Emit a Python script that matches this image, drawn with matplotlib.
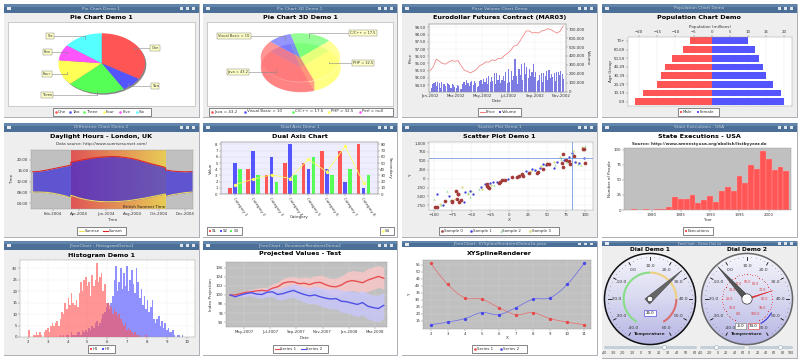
"""JFreeChart demo collage: twelve small chart windows on one 800x360 image."""

import matplotlib
matplotlib.use("Agg")

import matplotlib.patches as mpatches
import matplotlib.pyplot as plt
import numpy as np
from matplotlib.colors import LinearSegmentedColormap

# ── Data ──────────────────────────────────────────────────────────────────────
PIE_LABELS = ["One", "Two", "Three", "Four", "Five", "Six"]
PIE_VALUES = [43.2, 10.0, 27.5, 17.5, 11.0, 19.0]

PIE3D_LABELS = ["Java", "Visual Basic", "C/C++", "PHP"]
PIE3D_VALUES = [43.2, 10.0, 17.5, 32.5]

PRICE = [95.5, 95.75, 96.3, 96.15, 96.0, 95.95, 96.1, 96.2, 96.15, 96.2,
         95.85, 95.55, 95.45, 95.35, 95.45, 95.6, 95.85, 95.95, 96.1, 96.1,
         96.25, 96.2, 96.35, 96.35, 96.55, 96.7, 96.9, 97.2, 97.25, 97.55,
         97.9, 98.25, 98.25, 98.1, 98.15, 98.1, 98.25, 98.3, 98.4, 98.35,
         98.2, 98.1, 98.25, 98.6]
VOLUME_K = [40, 85, 95, 110, 60, 105, 95, 40, 105, 90, 80, 60, 95, 85, 75, 45,
            80, 70, 55, 40, 70, 60, 30, 25, 85, 110, 70, 135, 100, 60, 105, 120,
            70, 115, 100, 50, 60, 120, 135, 90, 145, 105, 150, 80, 170, 105, 160,
            120, 210, 90, 205, 135, 190, 100, 130, 180, 120, 215, 95, 250, 110,
            235, 130, 175, 365, 180, 90, 250, 190, 310, 130, 325, 200, 280, 150,
            255, 170, 225, 310, 160, 220, 120, 130, 190, 210, 110, 205, 170, 235,
            130, 240, 150, 200, 160, 210, 120, 225, 215, 190, 235, 200, 140]
PRICE_TICK_LABELS = ["Jan-2002", "Mar-2002", "May-2002", "Jul-2002", "Sep-2002", "Nov-2002"]

AGE_GROUPS = ["0-9", "10-19", "20-29", "30-39", "40-49", "50-59", "60-69", "70+"]
MALE = [21, 19, 15, 14, 13, 11, 8, 6]
FEMALE = [20, 19, 17, 15, 14, 13, 12, 10]

DAY_MONTHS = [-0.5, 0, 0.5, 1, 1.5, 2, 2.37, 2.38, 3, 3.5, 4, 4.5, 5, 5.5, 6, 6.5,
              7, 7.5, 8, 8.5, 9, 9.49, 9.51, 10, 10.5, 11, 11.5]
SUNRISE = [8.1, 8.1, 8.0, 7.7, 7.2, 6.6, 5.9, 6.9, 5.9, 5.3, 4.9, 4.6, 4.5, 4.5,
           4.6, 4.8, 5.1, 5.5, 5.9, 6.4, 6.9, 7.4, 6.5, 7.1, 7.5, 7.9, 8.1]
SUNSET = [15.6, 15.8, 16.2, 16.7, 17.2, 17.7, 18.1, 19.2, 19.8, 20.3, 20.7, 21.0,
          21.2, 21.3, 21.2, 20.9, 20.5, 19.9, 19.2, 18.5, 17.9, 17.2, 16.3, 15.9,
          15.7, 15.6, 15.7]
DAY_TICK_LABELS = ["Feb-2004", "Apr-2004", "Jun-2004", "Aug-2004", "Oct-2004", "Dec-2004"]

CATEGORIES = [f"Category {i}" for i in range(1, 9)]
S1 = [1, 4, 3, 5, 5, 7, 7, 8]
S2 = [5, 7, 6, 8, 4, 4, 2, 1]
S3 = [4, 3, 2, 3, 6, 3, 4, 3]
S4 = [15, 24, 31, 25, 56, 36, 77, 18]

SAMPLE0_X = [-98, -96, -85, -76, -75, -70, -68, -69, -66, -64, -68, -30, -29, -27,
             -28, -14, -12, -10, -6, 4, 10, 12, 17, 18, 26, 36, 37, 44, 50, 52, 69,
             70, 70, 75, 78, 80, 85, 98, 99, 97]
SAMPLE0_Y = [-800, -790, -630, -620, -660, -350, -420, -580, -650, -590, -440, -140,
             -200, -270, -230, -110, -80, -50, -30, 40, 50, 70, 120, 80, 170, 170,
             200, 280, 400, 420, 440, 680, 320, 530, 500, 400, 640, 830, 430, 820]
SAMPLE1_X = [-95, -88, -80, -60, -58, -52, -48, -38, -32, -26, -22, -16, -8, -2, 22,
             30, 34, 40, 44, 48, 58, 62, 72, 78, 82, 86, 92, 98]
SAMPLE1_Y = [-440, -750, -490, -650, -370, -340, -420, -240, -150, -120, -100, -90,
             -30, -20, 210, 260, 230, 310, 420, 380, 310, 460, 520, 600, 720, 480,
             440, 580]
SAMPLE2_X = [-100, -90, -82, -78, -66, -54, -52, -40, -26, -20, 8, 24, 33, 46, 52,
             60, 68, 76, 84, 90, 94, 99]
SAMPLE2_Y = [-560, -740, -340, -600, -440, -400, -510, -300, -230, -170, 60, 180,
             240, 420, 400, 390, 540, 470, 700, 410, 380, 930]
SAMPLE3_X = [-92, -72, -62, -54, -50, -36, -24, -12, 14, 28, 42, 50, 58, 66, 74, 84,
             88, 96]
SAMPLE3_Y = [-700, -560, -240, -420, -360, -280, -190, -60, 100, 210, 360, 440, 470,
             600, 530, 780, 460, 880]

EXEC_YEARS = list(range(1976, 2004))
EXECUTIONS = [0, 1, 0, 2, 0, 1, 2, 5, 21, 18, 18, 25, 11, 16, 23, 14, 31, 38, 31, 56,
              45, 74, 68, 98, 85, 66, 71, 65]

H1_START = 2.0
H1 = [3, 0, 0, 1, 1, 2, 1, 2, 1, 0, 2, 3, 4, 2, 5, 6, 5, 6, 7, 5, 8, 11, 10, 15, 12,
      17, 14, 19, 15, 14, 16, 13, 19, 24, 20, 25, 26, 22, 24, 18, 27, 22, 25, 32, 24,
      26, 28, 20, 23, 15, 15, 14, 13, 10, 12, 11, 9, 10, 8, 6, 5, 6, 3, 4, 3, 2, 1, 2,
      1, 1, 0, 1, 0, 0, 1]
H2_START = 3.6
H2 = [1, 0, 1, 0, 1, 1, 0, 2, 1, 1, 1, 2, 2, 1, 3, 2, 3, 2, 4, 3, 5, 4, 6, 7, 5, 6, 8,
      10, 11, 13, 15, 12, 15, 18, 25, 31, 20, 24, 30, 21, 28, 22, 31, 20, 25, 29, 23,
      19, 30, 24, 17, 21, 14, 18, 12, 16, 11, 13, 16, 8, 6, 8, 9, 5, 7, 4, 6, 3, 4, 2,
      2, 3, 1, 0, 1, 1, 0, 1]
BIN_WIDTH = 0.08

PROJ_S1 = [100, 100, 100.3, 100.6, 100.7, 100.9, 101, 100.9, 101.5, 101.8, 102.6,
           102.9, 102.9, 102.5, 102.6, 102.3, 102.7, 102.8, 102.3, 101.9, 101.8, 102.2,
           102.9, 103.2, 103, 102.7, 103.3, 103.7, 104.1, 103.7]
PROJ_S1_UP = [100, 100.2, 100.6, 101, 101.2, 101.5, 101.7, 101.7, 102.4, 102.8, 103.7,
              104, 104.1, 103.8, 104, 103.8, 104.2, 104.4, 104, 103.7, 103.7, 104.2,
              105, 105.4, 105.3, 105.1, 105.8, 106.2, 106.5, 106.1]
PROJ_S1_LO = [100, 99.8, 100, 100.2, 100.2, 100.3, 100.3, 100.1, 100.6, 100.8, 101.5,
              101.8, 101.7, 101.2, 101.2, 100.8, 101.2, 101.2, 100.6, 100.1, 99.9,
              100.2, 100.8, 101, 100.7, 100.3, 100.8, 101.2, 101.7, 101.3]
PROJ_S2 = [100, 99.6, 100, 100.3, 100.5, 100.2, 100.1, 100.6, 100.7, 100.1, 100.3,
           100.7, 101, 100.5, 100.1, 99.8, 100, 99.6, 99.3, 99.1, 99.2, 98.6, 98.5,
           98.2, 97.9, 98.3, 97.5, 97.2, 97, 97.7]
PROJ_S2_UP = [100, 99.8, 100.4, 100.9, 101.2, 101, 101, 101.6, 101.8, 101.3, 101.7,
              102.1, 102.5, 102.1, 101.8, 101.6, 101.9, 101.6, 101.4, 101.3, 101.5,
              101, 101, 100.8, 100.6, 101, 100.3, 100, 99.9, 100.6]
PROJ_S2_LO = [100, 99.4, 99.6, 99.7, 99.8, 99.4, 99.2, 99.6, 99.6, 98.9, 98.9, 99.3,
              99.5, 98.9, 98.4, 98, 98.1, 97.6, 97.2, 96.9, 96.9, 96.2, 96, 95.6, 95.2,
              95.6, 94.7, 94.3, 94.1, 94.8]
PROJ_TICK_LABELS = ["May-2007", "Jul-2007", "Sep-2007", "Nov-2007", "Jan-2008", "Mar-2008"]

SPLINE_X = [2, 3, 4, 5, 6, 7, 8, 9, 10, 11]
SPLINE_S1 = [56, 41, 31.5, 30.5, 24.5, 19.5, 21, 16.7, 14.2, 12.3]
SPLINE_S2 = [12.3, 14.2, 16.7, 21, 19.5, 24.5, 30.5, 31.5, 41, 56]

DIAL1_VALUE = 26.0
DIAL2_OUTER_VALUE = -4.0
DIAL2_INNER_VALUE = 74.0
DIAL_OUTER_TICKS = list(range(-40, 61, 10))
DIAL_INNER_TICKS = list(range(0, 101, 10))

# ── Config ────────────────────────────────────────────────────────────────────
W, H = 800, 360
RED, BLUE, GREEN, YELLOW, MAGENTA, CYAN = (
    "#FF5555", "#5555FF", "#55FF55", "#FFFF55", "#FF55FF", "#55FFFF"
)
GRAY_PLOT = "#C0C0C0"
TICK_SIZE = 2.8
TITLE_SIZE = 4.6
TEXT_COLOR = "#333333"

plt.rcParams["font.family"] = ["DejaVu Sans"]
plt.rcParams["axes.linewidth"] = 0.3

fig = plt.figure(figsize=(W / 100, H / 100), dpi=100, facecolor="white")


def px_axes(x0, y0, x1, y1, zorder=2):
    return fig.add_axes([x0 / W, 1 - y1 / H, (x1 - x0) / W, (y1 - y0) / H], zorder=zorder)


bg = px_axes(0, 0, W, H, zorder=-1)
fg = px_axes(0, 0, W, H, zorder=10)
for layer in (bg, fg):
    layer.set_xlim(0, W)
    layer.set_ylim(H, 0)
    layer.axis("off")
fg.patch.set_alpha(0)


# ── Helpers ───────────────────────────────────────────────────────────────────
def put(x, y, s, size=TICK_SIZE, **kw):
    kw.setdefault("color", TEXT_COLOR)
    kw.setdefault("ha", "center")
    kw.setdefault("va", "center")
    fg.text(x, y, s, fontsize=size, **kw)


def window(x0, y0, x1, y1, title, body="#EEEEEE", bar_h=9, title_size=3.2):
    bg.add_patch(mpatches.Rectangle((x0 - 0.5, y0 - 0.5), x1 - x0 + 1, y1 - y0 + 1,
                                    fc="#AEB2B8", ec="none"))
    bg.add_patch(mpatches.Rectangle((x0, y0), x1 - x0, y1 - y0, fc=body, ec="none"))
    bg.add_patch(mpatches.Rectangle((x0, y0), x1 - x0, bar_h, fc="#4B6F97", ec="none"))
    bg.add_patch(mpatches.Rectangle((x0, y0), x1 - x0, bar_h * 0.35, fc="#6285AB", ec="none"))
    mid = y0 + bar_h / 2
    put((x0 + x1) / 2, mid, title, size=title_size, color="#C9D3DE")
    bg.add_patch(mpatches.Rectangle((x0 + 3, mid - 1.5), 4, 3, fc="#E8ECF0", ec="none"))
    for dx in (6, 12, 18):
        bg.add_patch(mpatches.Rectangle((x1 - dx - 1, mid - 1.2), 2.6, 2.4, fc="#DDE4EC", ec="none"))


def legend(x0, x1, y0, y1, entries):
    fg.add_patch(mpatches.Rectangle((x0, y0), x1 - x0, y1 - y0, fc="white", ec="#555555", lw=0.5))
    weights = [len(label) + 2.6 for label, _, _ in entries]
    unit = (x1 - x0 - 3) / sum(weights)
    x = x0 + 1.5
    mid = (y0 + y1) / 2
    for (label, color, kind), weight in zip(entries, weights):
        if kind == "line":
            fg.plot([x, x + 5], [mid, mid], color=color, lw=0.8)
            tx = x + 6
        else:
            marker = {"box": "s", "dot": "o", "tri": "^", "dia": "D"}[kind]
            fg.plot([x + 1.5], [mid], marker=marker, color=color, ms=1.9, mew=0)
            tx = x + 3.5
        put(tx, mid, label, size=2.9, ha="left")
        x += weight * unit


def style(ax, face="white", grid="#DDDDDD", xgrid=True, ygrid=True):
    ax.set_facecolor(face)
    ax.tick_params(length=1.2, width=0.3, pad=0.8, labelsize=TICK_SIZE,
                   colors=TEXT_COLOR, color="#777777")
    for spine in ax.spines.values():
        spine.set_color("#999999")
        spine.set_linewidth(0.3)
    ax.set_axisbelow(True)
    if xgrid:
        ax.grid(True, axis="x", color=grid, lw=0.3)
    if ygrid:
        ax.grid(True, axis="y", color=grid, lw=0.3)


def label_box(x, y, s, anchor):
    fg.plot([x, anchor[0]], [y, y], color="#888888", lw=0.4)
    fg.plot([anchor[0], anchor[0]], [y, anchor[1]], color="#888888", lw=0.4)
    put(x, y, s, size=2.6, bbox=dict(boxstyle="square,pad=0.25", fc="#FFFFC8", ec="#777777", lw=0.3))


def smooth(x, y, steps=14):
    # Catmull-Rom curve through the points, same look as the spline renderer
    pts = np.column_stack([x, y]).astype(float)
    pts = np.vstack([pts[0], pts, pts[-1]])
    out = []
    for i in range(1, len(pts) - 2):
        t = np.linspace(0, 1, steps)[:, None]
        a, b, c, d = pts[i - 1], pts[i], pts[i + 1], pts[i + 2]
        out.append(0.5 * (2 * b + (c - a) * t + (2 * a - 5 * b + 4 * c - d) * t ** 2
                          + (3 * b - a - 3 * c + d) * t ** 3))
    out = np.vstack(out)
    return out[:, 0], out[:, 1]


# ── Pie charts ────────────────────────────────────────────────────────────────
def draw_pie():
    window(4, 4, 199, 117, "Pie Chart Demo 1")
    put(101.5, 17.5, "Pie Chart Demo 1", size=TITLE_SIZE, weight="bold", color="black")
    bg.add_patch(mpatches.Rectangle((8, 22), 187, 84, fc="white", ec="#AAAAAA", lw=0.4))
    cx, cy, rx, ry = 101.7, 63.3, 43.3, 30
    fg_shadow = mpatches.Ellipse((cx + 1.3, cy + 1.4), 2 * rx, 2 * ry, fc="#888888", ec="none")
    bg.add_patch(fg_shadow)
    ax = px_axes(cx - rx, cy - ry, cx + rx, cy + ry)
    ax.pie(PIE_VALUES, colors=[RED, BLUE, GREEN, YELLOW, MAGENTA, CYAN],
           startangle=90, counterclock=False, radius=1)
    ax.set_aspect("auto")
    ax.set_xlim(-1, 1)
    ax.set_ylim(-1, 1)
    ax.patch.set_alpha(0)

    mids = 360 * (np.cumsum(PIE_VALUES) - np.array(PIE_VALUES) / 2) / sum(PIE_VALUES)
    spots = [(155, 48), (155, 85.7), (46.7, 94.7), (46.7, 74), (47.7, 52.3), (50, 36)]
    for name, mid, (x, y) in zip(PIE_LABELS, mids, spots):
        ang = np.radians(mid)
        anchor = (cx + 0.85 * rx * np.sin(ang), cy - 0.9 * ry * np.cos(ang))
        label_box(x, y, name, anchor)
    legend(53, 151, 107.5, 116, list(zip(PIE_LABELS, [RED, BLUE, GREEN, YELLOW, MAGENTA, CYAN],
                                         ["dot"] * 6)))


def draw_pie3d():
    window(203, 4, 397, 117, "Pie Chart 3D Demo 1")
    put(300, 17.5, "Pie Chart 3D Demo 1", size=TITLE_SIZE, weight="bold", color="black")
    bg.add_patch(mpatches.Rectangle((207, 22), 186, 84, fc="white", ec="#AAAAAA", lw=0.4))
    colors = [RED, BLUE, GREEN, YELLOW]
    cx, cy, rx, ry, depth = 300.4, 57.5, 39.7, 24.3, 10
    drop = depth / ry
    ax = px_axes(cx - rx, cy - ry, cx + rx, cy + ry + depth)
    start = 90 - 160
    wedges, _ = ax.pie(PIE3D_VALUES, colors=colors, startangle=start, counterclock=False,
                       center=(0, -drop), wedgeprops=dict(alpha=0.4, lw=0))
    # outer wall below the visible rim
    for wedge, color in zip(wedges, colors):
        arc = np.radians(np.linspace(wedge.theta1, wedge.theta2, 60))
        xs, ys = np.cos(arc), np.sin(arc)
        ax.fill_between(xs, ys, ys - drop, where=ys <= 0, color=color, alpha=0.55, lw=0)
    ax.pie(PIE3D_VALUES, colors=colors, startangle=start, counterclock=False,
           wedgeprops=dict(alpha=0.62, lw=0))
    ax.set_aspect("auto")
    ax.set_xlim(-1, 1)
    ax.set_ylim(-1 - drop, 1)
    ax.patch.set_alpha(0)

    spots = [(238, 72), (234, 36), (363, 33), (363, 63)]
    texts = [f"{n} = {v:g}" for n, v in zip(PIE3D_LABELS, PIE3D_VALUES)]
    bounds = np.cumsum(PIE3D_VALUES) - np.array(PIE3D_VALUES) / 2
    for s, mid, (x, y) in zip(texts, bounds, spots):
        ang = np.radians(160 + 360 * mid / sum(PIE3D_VALUES))
        anchor = (cx + 0.75 * rx * np.sin(ang), cy - 0.85 * ry * np.cos(ang))
        label_box(x, y, s, anchor)
    legend(209, 393, 107.5, 115.5, [(t, c, "dot") for t, c in zip(texts, colors)]
           + [("Perl = null", MAGENTA, "dot")])


# ── Price / volume ────────────────────────────────────────────────────────────
def draw_price():
    window(402, 4, 597, 117, "Price Volume Chart Demo")
    put(499.5, 17.5, "Eurodollar Futures Contract (MAR03)", size=TITLE_SIZE, weight="bold", color="black")
    ax = px_axes(428.5, 24, 566, 91.5)
    style(ax, grid="#EEEEEE")
    months = np.linspace(0, 10.2, len(PRICE))
    ax.plot(months, PRICE, color="#F08080", lw=0.55)
    ax.set_xlim(-0.12, 10.4)
    ax.set_ylim(94.06, 98.73)
    ax.set_yticks(np.arange(94.5, 98.6, 0.5))
    ax.set_yticklabels([f"{v:.2f}" for v in np.arange(94.5, 98.6, 0.5)])
    ax.set_xticks(np.arange(0, 11, 2))
    ax.set_xticklabels(PRICE_TICK_LABELS)

    vol = ax.twinx()
    style(vol, xgrid=False, ygrid=False)
    vol.patch.set_alpha(0)
    vmonths = np.linspace(0.1, 10.2, len(VOLUME_K))
    vol.bar(vmonths, [v * 1000 for v in VOLUME_K], width=0.085, color="#4A4AD8", alpha=0.72, lw=0)
    vol.set_ylim(0, 760000)
    vol.set_yticks(np.arange(0, 700001, 100000))
    vol.set_yticklabels([f"{v:,}" for v in range(0, 700001, 100000)])
    put(411, 58, "Price", size=3, rotation=90)
    put(588, 58, "Volume", size=3, rotation=-90)
    put(497, 101, "Date", size=3)
    legend(478, 521, 107.5, 116, [("Price", "#F08080", "line"), ("Volume", "#5555DD", "box")])


# ── Population ────────────────────────────────────────────────────────────────
def draw_population():
    window(602, 4, 797, 117, "Population Chart Demo")
    put(699, 18, "Population Chart Demo", size=TITLE_SIZE, weight="bold", color="black")
    ax = px_axes(627.5, 36.5, 792, 106)
    style(ax, grid="#E4E4E4", ygrid=False)
    y = np.arange(len(AGE_GROUPS))
    ax.barh(y, [-m for m in MALE], height=0.78, color=RED, lw=0)
    ax.barh(y, FEMALE, height=0.78, color=BLUE, lw=0)
    ax.set_yticks(y)
    ax.set_yticklabels(AGE_GROUPS)
    ax.set_ylim(-0.5, len(AGE_GROUPS) - 0.5)
    ax.set_xlim(-23.2, 22.1)
    ax.set_xticks(range(-20, 21, 5))
    ax.xaxis.tick_top()
    ax.tick_params(labelsize=TICK_SIZE, length=1.2, width=0.3, pad=0.8)
    put(710, 27, "Population (millions)", size=3)
    put(611, 71, "Age Group", size=3, rotation=90)
    legend(678, 719, 107.5, 116, [("Male", RED, "box"), ("Female", BLUE, "box")])


# ── Difference chart ──────────────────────────────────────────────────────────
def draw_daylight():
    window(4, 123, 199, 237, "Difference Chart Demo 2")
    put(101, 136.5, "Daylight Hours - London, UK", size=TITLE_SIZE, weight="bold", color="black")
    put(101, 143.5, "Data source: http://www.sunrisesunset.com/", size=3)
    ax = px_axes(31, 150, 193, 209)
    style(ax, face=GRAY_PLOT, xgrid=False, ygrid=False)
    grad = LinearSegmentedColormap.from_list("bst", ["#E05555", "#E8CB55"])
    ax.imshow(np.linspace(0, 1, 64)[None, :], extent=[2.375, 9.5, 1.8, 23.7], aspect="auto",
              cmap=grad, zorder=1)
    ax.fill_between(DAY_MONTHS, SUNRISE, SUNSET, color="#3A2CD8", alpha=0.72, lw=0, zorder=2)
    ax.plot(DAY_MONTHS, SUNRISE, color="#F2E050", lw=0.7, zorder=3)
    ax.plot(DAY_MONTHS, SUNSET, color="#E02020", lw=0.7, zorder=3)
    ax.set_xlim(-0.62, 11.57)
    ax.set_ylim(1.8, 23.7)
    ax.set_yticks([4, 8, 12, 16, 20])
    ax.set_yticklabels(["04:00", "08:00", "12:00", "16:00", "20:00"])
    ax.set_xticks(range(1, 12, 2))
    ax.set_xticklabels(DAY_TICK_LABELS)
    ax.text(9.45, 2.6, "British Summer Time", fontsize=2.9, ha="right", va="center",
            color="#222222", zorder=4)
    put(112, 220, "Time", size=3)
    put(12.5, 179, "Time", size=3, rotation=90)
    legend(77, 126, 227, 235, [("Sunrise", "#F2E050", "line"), ("Sunset", "#E02020", "line")])


# ── Dual axis ─────────────────────────────────────────────────────────────────
def draw_dual():
    window(203, 123, 397, 237, "Dual Axis Demo 1", body="white")
    put(300, 136, "Dual Axis Chart", size=TITLE_SIZE, weight="bold", color="black")
    ax = px_axes(220.5, 142, 377.5, 194)
    style(ax, face="#EEEEFF", xgrid=False, grid="#D8D8E8")
    x = np.arange(len(CATEGORIES))
    for values, color, off in ((S1, RED, -0.27), (S2, BLUE, 0), (S3, GREEN, 0.27)):
        ax.bar(x + off, values, width=0.2, color=color, lw=0)
    ax.set_xlim(-0.78, 7.76)
    ax.set_ylim(0, 8.4)
    ax.set_yticks(range(0, 9))
    ax.set_xticks(x)
    ax.set_xticklabels(CATEGORIES, rotation=-55, ha="left", rotation_mode="anchor")
    right = ax.twinx()
    style(right, xgrid=False, ygrid=False)
    right.patch.set_alpha(0)
    right.plot(x, S4, color="#FFFF66", lw=0.6, marker="o", ms=2.4, mew=0)
    right.set_ylim(0, 84)
    right.set_yticks(range(0, 81, 10))
    put(299, 217, "Category", size=3)
    put(211, 168, "Value", size=3, rotation=90)
    put(390, 168, "Secondary", size=3, rotation=-90)
    legend(207, 242, 227, 235, [("S1", RED, "box"), ("S2", BLUE, "box"), ("S3", GREEN, "box")])
    legend(380, 394, 227, 235, [("S4", YELLOW, "dot")])


# ── Scatter ───────────────────────────────────────────────────────────────────
def draw_scatter():
    window(402, 123, 597, 237, "Scatter Plot Demo 1")
    put(499, 136, "Scatter Plot Demo 1", size=TITLE_SIZE, weight="bold", color="black")
    ax = px_axes(428.5, 142, 593, 210)
    style(ax, grid="#E8E8E8")
    ax.scatter(SAMPLE3_X, SAMPLE3_Y, s=2.2, marker="D", color="#DDDD88", lw=0, zorder=3)
    ax.scatter(SAMPLE2_X, SAMPLE2_Y, s=2.8, marker="^", color="#99DD99", lw=0, zorder=3)
    ax.scatter(SAMPLE1_X, SAMPLE1_Y, s=2.8, marker="o", color="#4444DD", lw=0, zorder=3)
    ax.scatter(SAMPLE0_X, SAMPLE0_Y, s=7.0, marker="o", color="#A23A3A", lw=0, zorder=4)
    ax.axvline(82, color="#7799DD", lw=0.6, zorder=5)
    ax.axhline(580, color="#7799DD", lw=0.6, zorder=5)
    ax.set_xlim(-106.6, 110)
    ax.set_ylim(-880, 1030)
    ax.set_xticks(range(-100, 101, 25))
    ax.set_yticks(range(-750, 1001, 250))
    ax.set_yticklabels([f"{v:,}" for v in range(-750, 1001, 250)])
    put(509, 220, "X", size=3)
    put(411, 176, "Y", size=3, rotation=90)
    legend(439, 559, 227, 235, [("Sample 0", "#A23A3A", "dot"), ("Sample 1", "#4444DD", "dot"),
                                ("Sample 2", "#99DD99", "tri"), ("Sample 3", "#DDDD88", "dia")])


# ── Executions ────────────────────────────────────────────────────────────────
def draw_executions():
    window(602, 123, 797, 237, "State Executions - USA", body="white")
    put(699, 136, "State Executions - USA", size=TITLE_SIZE, weight="bold", color="black")
    put(699, 143.5, "Source: http://www.amnestyusa.org/abolish/listbyyear.do", size=3, weight="bold")
    ax = px_axes(624, 148, 791, 210)
    style(ax, face=GRAY_PLOT, grid="#D0D0D0", xgrid=False, ygrid=False)
    ax.bar(EXEC_YEARS, EXECUTIONS, width=1.0, color=RED, edgecolor="#FFAAAA", lw=0.25)
    ax.set_xlim(1975.3, 2003.8)
    ax.set_ylim(0, 103)
    ax.set_xticks([1980, 1985, 1990, 1995, 2000])
    ax.set_yticks(range(0, 101, 25))
    put(707, 220, "Year", size=3)
    put(610, 179, "Number of People", size=3, rotation=90)
    legend(683, 713, 227, 235, [("Executions", RED, "box")])


# ── Histogram ─────────────────────────────────────────────────────────────────
def draw_histogram():
    window(4, 241, 199, 355, "JFreeChart : HistogramDemo1")
    put(101, 255, "Histogram Demo 1", size=TITLE_SIZE, weight="bold", color="black")
    ax = px_axes(20, 260, 194.5, 337)
    style(ax, grid="#EEEEEE")
    x1 = H1_START + BIN_WIDTH * np.arange(len(H1))
    x2 = H2_START + BIN_WIDTH * np.arange(len(H2))
    ax.bar(x2, H2, width=BIN_WIDTH, align="edge", color=BLUE, alpha=0.65, lw=0, zorder=2)
    ax.bar(x1, H1, width=BIN_WIDTH, align="edge", color=RED, alpha=0.62, lw=0, zorder=3)
    ax.set_xlim(1.6, 10.4)
    ax.set_ylim(0, 33.5)
    ax.set_xticks(range(2, 11))
    ax.set_yticks(range(0, 31, 5))
    legend(88, 115, 345, 353, [("H1", RED, "box"), ("H2", BLUE, "box")])


# ── Deviation ─────────────────────────────────────────────────────────────────
def draw_projection():
    window(203, 241, 397, 355, "JFreeChart : DeviationRendererDemo2", body="white")
    put(300, 254, "Projected Values - Test", size=TITLE_SIZE, weight="bold", color="black")
    ax = px_axes(226, 262, 387, 327)
    style(ax, face=GRAY_PLOT, grid="#D4D4D4")
    months = np.linspace(-1.1, 10.7, len(PROJ_S1))
    ax.fill_between(months, PROJ_S1_LO, PROJ_S1_UP, color="#FFC8C8", alpha=0.75, lw=0)
    ax.fill_between(months, PROJ_S2_LO, PROJ_S2_UP, color="#C8C8FF", alpha=0.75, lw=0)
    ax.plot(months, PROJ_S1, color="#E85050", lw=1.0)
    ax.plot(months, PROJ_S2, color="#5050E8", lw=1.0)
    ax.set_xlim(-1.41, 10.95)
    ax.set_ylim(92.9, 107.3)
    ax.set_yticks(range(94, 107, 2))
    ax.set_xticks(range(0, 11, 2))
    ax.set_xticklabels(PROJ_TICK_LABELS)
    put(304, 338, "Date", size=3)
    put(211, 295, "Index Projection", size=3, rotation=90)
    legend(273, 328, 345, 353, [("Series 1", "#E85050", "line"), ("Series 2", "#5050E8", "line")])


# ── Spline ────────────────────────────────────────────────────────────────────
def draw_spline():
    window(402, 241, 597, 355, "JFreeChart: XYSplineRendererDemo1a.java", body="white", bar_h=6)
    put(499, 253, "XYSplineRenderer", size=TITLE_SIZE, weight="bold", color="black")
    ax = px_axes(423, 260, 591, 329)
    style(ax, face=GRAY_PLOT, grid="#D0D0D0")
    for values, line, dot in ((SPLINE_S1, "#E87070", "#E84848"), (SPLINE_S2, "#7070E8", "#4848E8")):
        xs, ys = smooth(SPLINE_X, values)
        ax.plot(xs, ys, color=line, lw=0.55)
        ax.plot(SPLINE_X, values, ls="none", marker="o", ms=2.4, mew=0, color=dot)
    ax.set_xlim(1.55, 11.4)
    ax.set_ylim(9.3, 58.4)
    ax.set_xticks(SPLINE_X)
    ax.set_yticks(range(15, 56, 5))
    put(507, 338, "X", size=3)
    put(410, 295, "Y", size=3, rotation=90)
    legend(472, 527, 345, 353, [("Series 1", "#E84848", "dot"), ("Series 2", "#4848E8", "dot")])


# ── Dials ─────────────────────────────────────────────────────────────────────
def polar(value, lo, hi, r):
    ang = np.radians(-150 + 300 * (np.asarray(value, float) - lo) / (hi - lo))
    return r * np.sin(ang), r * np.cos(ang)


def needle(ax, value, lo, hi, length, width, color, edge):
    ang = np.radians(-150 + 300 * (value - lo) / (hi - lo))
    tip = (length * np.sin(ang), length * np.cos(ang))
    side = (width * np.cos(ang), -width * np.sin(ang))
    tail = (-0.08 * np.sin(ang), -0.08 * np.cos(ang))
    ax.add_patch(mpatches.Polygon([tip, (tail[0] + side[0], tail[1] + side[1]),
                                   (tail[0] - side[0], tail[1] - side[1])],
                                  fc=color, ec=edge, lw=0.3, zorder=6))


def dial_base(cx, cy, rim, rim_lw):
    radius = 46.7
    ax = px_axes(cx - radius, cy - radius, cx + radius, cy + radius, zorder=3)
    ax.set_xlim(-1, 1)
    ax.set_ylim(-1, 1)
    ax.axis("off")
    shade = LinearSegmentedColormap.from_list("dial", ["#B4B4E4", "#D8D8F0", "#F6F6FC"])
    img = ax.imshow(np.linspace(0, 1, 64)[:, None], extent=[-1, 1, -1, 1], origin="lower",
                    cmap=shade, aspect="auto", zorder=1)
    img.set_clip_path(mpatches.Circle((0, 0), 0.99, transform=ax.transData))
    ax.add_patch(mpatches.Circle((0, 0), 0.975, fc="none", ec=rim, lw=rim_lw, zorder=5))
    for v in np.arange(-40, 60.1, 2):
        x0, y0 = polar(v, -40, 60, 0.9)
        if v % 10 == 0:
            x1, y1 = polar(v, -40, 60, 0.84)
            ax.plot([x0, x1], [y0, y1], color="#111111", lw=0.6, zorder=2)
        else:
            ax.plot([x0], [y0], marker="o", ms=0.4, mew=0, color="#666666", zorder=2)
    for v in DIAL_OUTER_TICKS:
        x, y = polar(v, -40, 60, 0.71)
        ax.text(x, y, f"{v:.1f}", fontsize=3.2, ha="center", va="center", color="#333333", zorder=3)
    ax.text(0, -0.74, "Temperature", fontsize=3.2, weight="bold", ha="center", va="center",
            color="#222222", zorder=3)
    return ax


def readout(ax, x, y, s, edge):
    ax.text(x, y, s, fontsize=2.8, ha="center", va="center", color="black", zorder=8,
            bbox=dict(boxstyle="square,pad=0.35", fc="white", ec=edge, lw=0.5))


def slider(x0, x1, lo, hi, value, ticks):
    fg.plot([x0, x1], [347, 347], color="#C4CFD8", lw=2.2, solid_capstyle="round")
    kx = x0 + (value - lo) / (hi - lo) * (x1 - x0)
    fg.plot([kx], [347], marker="o", ms=2.9, mfc="white", mec="#8FA5BC", mew=0.4)
    for t in ticks:
        put(x0 + (t - lo) / (hi - lo) * (x1 - x0), 352.5, str(t), size=2.3)


def draw_dials():
    window(602, 241, 797, 358, "JFreeChart - Demo Dial 2a", bar_h=5, title_size=2.4)
    put(650, 249.5, "Dial Demo 1", size=4.2, weight="bold", color="black")
    put(747, 249.5, "Dial Demo 2", size=4.2, weight="bold", color="black")

    ax = dial_base(650, 299, "#111111", 1.1)
    for lo, hi, color in ((-40, 10, "#88DD88"), (10, 40, "#EFD080"), (40, 60, "#D87070")):
        xs, ys = polar(np.linspace(lo, hi, 50), -40, 60, 0.565)
        ax.plot(xs, ys, color=color, lw=1.5, zorder=3, solid_capstyle="butt")
    needle(ax, DIAL1_VALUE, -40, 60, 0.92, 0.075, "#666666", "#333333")
    ax.add_patch(mpatches.Circle((0, 0), 0.06, fc="white", ec="#333333", lw=0.5, zorder=7))
    readout(ax, 0, -0.3, f"{DIAL1_VALUE:.1f}", "#5555DD")

    ax = dial_base(747, 299, "#666666", 1.1)
    xs, ys = polar(np.linspace(50, 60, 20), -40, 60, 0.6)
    ax.plot(xs, ys, color="#3333DD", lw=0.8, zorder=3)
    for v in np.arange(0, 100.1, 2):
        x, y = polar(v, 0, 100, 0.53)
        ax.plot([x], [y], marker="o", ms=0.5 if v % 10 else 0.9, mew=0, color="#DD3333", zorder=3)
    for v in DIAL_INNER_TICKS:
        x, y = polar(v, 0, 100, 0.37)
        ax.text(x, y, f"{v:.1f}", fontsize=2.3, ha="center", va="center", color="#DD3333", zorder=3)
    needle(ax, DIAL2_INNER_VALUE, 0, 100, 0.58, 0.018, "#DD2222", "#DD2222")
    needle(ax, DIAL2_OUTER_VALUE, -40, 60, 0.94, 0.07, "#555555", "#222222")
    ax.add_patch(mpatches.Circle((0, 0), 0.11, fc="white", ec="#333333", lw=0.5, zorder=7))
    readout(ax, -0.14, -0.58, f"{DIAL2_OUTER_VALUE:.1f}", "#888888")
    readout(ax, 0.14, -0.58, f"{DIAL2_INNER_VALUE:.1f}", "#DD5555")

    slider(605, 695, -40, 60, DIAL1_VALUE, list(range(-40, 61, 10)))
    slider(701, 743, -40, 60, DIAL2_OUTER_VALUE, list(range(-40, 61, 20)))
    slider(749, 791, 0, 100, DIAL2_INNER_VALUE, list(range(0, 101, 20)))


# ── Entry point ───────────────────────────────────────────────────────────────
def main():
    draw_pie()
    draw_pie3d()
    draw_price()
    draw_population()
    draw_daylight()
    draw_dual()
    draw_scatter()
    draw_executions()
    draw_histogram()
    draw_projection()
    draw_spline()
    draw_dials()
    fig.savefig("out.png", dpi=100, facecolor="white")


if __name__ == "__main__":
    main()
